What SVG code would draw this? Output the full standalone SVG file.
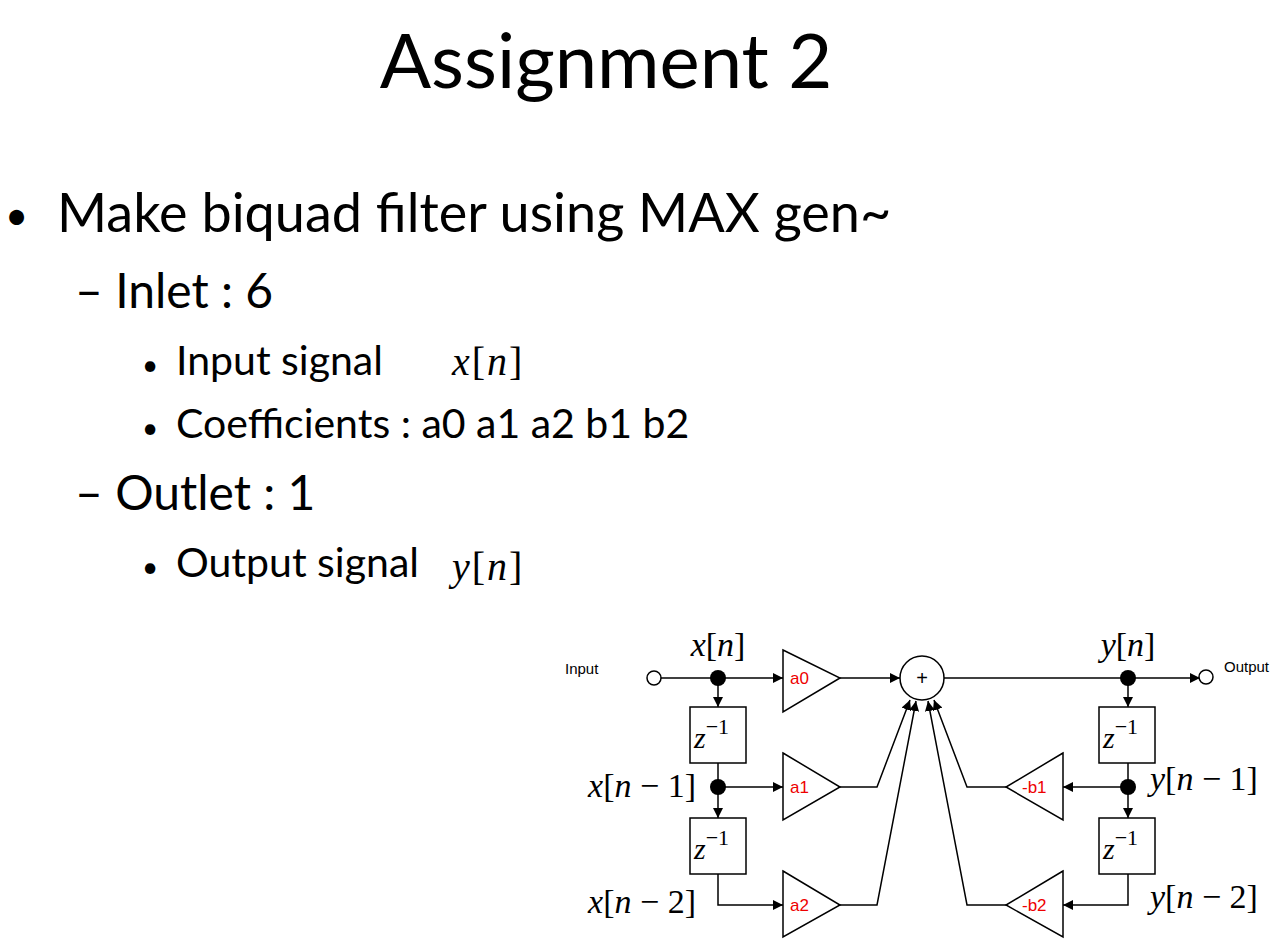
<svg xmlns="http://www.w3.org/2000/svg" width="1287" height="942" viewBox="0 0 1287 942">
<defs>
<marker id="ah" viewBox="0 0 10 10" refX="10" refY="5" markerWidth="10" markerHeight="10" markerUnits="userSpaceOnUse" orient="auto"><path d="M0,0 L10,5 L0,10 z" fill="#000"/></marker>
<style>
.t{font-family:Lato,"Open Sans",sans-serif;fill:#000}
.m{font-family:"Liberation Serif","DejaVu Serif",serif;font-style:italic;fill:#000}
.mr{font-family:"Liberation Serif","DejaVu Serif",serif;fill:#000}
.s{fill:#fff;stroke:#000;stroke-width:1.5}
.g{font-family:"Liberation Sans",Arial,sans-serif;font-size:17px;fill:#e00}
.w{fill:none;stroke:#000;stroke-width:1.5}
.a{fill:none;stroke:#000;stroke-width:1.5;marker-end:url(#ah)}
</style>
</defs>
<rect width="1287" height="942" fill="#fff"/>
<g id="text">
<text class="t" x="606" y="88" font-size="76" text-anchor="middle">Assignment 2</text>
<text class="t" x="5" y="230" font-size="40">•</text>
<text class="t" x="57" y="232" font-size="54">Make biquad filter using MAX gen~</text>
<text class="t" x="75" y="308" font-size="48">– Inlet : 6</text>
<text class="t" x="142" y="375" font-size="28">•</text>
<text class="t" x="176" y="375" font-size="41">Input signal</text>
<text x="452" y="375" font-size="40" letter-spacing="2"><tspan class="m">x</tspan><tspan class="mr">[</tspan><tspan class="m">n</tspan><tspan class="mr">]</tspan></text>
<text class="t" x="142" y="438" font-size="28">•</text>
<text class="t" x="176" y="438" font-size="41">Coefficients : a0 a1 a2 b1 b2</text>
<text class="t" x="75" y="510" font-size="48">– Outlet : 1</text>
<text class="t" x="142" y="577" font-size="28">•</text>
<text class="t" x="176" y="577" font-size="41">Output signal</text>
<text x="452" y="580" font-size="40" letter-spacing="2"><tspan class="m">y</tspan><tspan class="mr">[</tspan><tspan class="m">n</tspan><tspan class="mr">]</tspan></text>
</g>
<g id="connectors">
<line class="w" x1="660" y1="678" x2="718" y2="678"/>
<line class="a" x1="718" y1="678" x2="783" y2="678"/>
<line class="a" x1="840" y1="678" x2="900" y2="678"/>
<line class="w" x1="944" y1="678" x2="1128" y2="678"/>
<line class="a" x1="1128" y1="678" x2="1200" y2="678"/>
<line class="a" x1="718" y1="678" x2="718" y2="707"/>
<line class="w" x1="718" y1="763" x2="718" y2="787"/>
<line class="a" x1="718" y1="787" x2="783" y2="787"/>
<line class="a" x1="718" y1="787" x2="718" y2="818"/>
<polyline class="a" points="718,874 718,905 783,905"/>
<polyline class="a" points="840,787 877,787 910,700"/>
<polyline class="a" points="840,905 877,905 916,701"/>
<line class="a" x1="1128" y1="678" x2="1128" y2="707"/>
<line class="w" x1="1128" y1="763" x2="1128" y2="787"/>
<line class="a" x1="1128" y1="787" x2="1063" y2="787"/>
<line class="a" x1="1128" y1="787" x2="1128" y2="818"/>
<polyline class="a" points="1128,874 1128,905 1063,905"/>
<polyline class="a" points="1006,787 967,787 934,700"/>
<polyline class="a" points="1006,905 967,905 928,701"/>
</g>
<g id="input"><circle class="s" cx="654" cy="678" r="7"/><text x="565" y="674" font-family="Liberation Sans,Arial,sans-serif" font-size="15">Input</text></g>
<g id="output"><circle class="s" cx="1206" cy="677" r="7"/><text x="1224" y="672" font-family="Liberation Sans,Arial,sans-serif" font-size="15">Output</text></g>
<g id="dots"><circle cx="718" cy="678" r="8"/><circle cx="718" cy="787" r="8"/><circle cx="1128" cy="678" r="8"/><circle cx="1128" cy="787" r="8"/></g>
<g id="sum"><circle class="s" cx="922" cy="678" r="22"/><text x="922" y="685" font-family="Liberation Sans,Arial,sans-serif" font-size="20" text-anchor="middle">+</text></g>
<g id="a0"><polygon class="s" points="783,650 840,678 783,712"/><text class="g" x="790" y="684">a0</text></g>
<g id="a1"><polygon class="s" points="783,753 840,787 783,820"/><text class="g" x="790" y="793">a1</text></g>
<g id="a2"><polygon class="s" points="783,871 840,905 783,937"/><text class="g" x="790" y="911">a2</text></g>
<g id="b1"><polygon class="s" points="1063,753 1006,787 1063,820"/><text class="g" x="1022" y="793">-b1</text></g>
<g id="b2"><polygon class="s" points="1063,871 1006,905 1063,937"/><text class="g" x="1022" y="911">-b2</text></g>
<g id="zx1"><rect class="s" x="690" y="707" width="56" height="56"/><text x="694" y="748" font-size="30"><tspan class="m">z</tspan><tspan class="mr" dy="-14" font-size="22">−1</tspan></text></g>
<g id="zx2"><rect class="s" x="690" y="818" width="56" height="56"/><text x="694" y="859" font-size="30"><tspan class="m">z</tspan><tspan class="mr" dy="-14" font-size="22">−1</tspan></text></g>
<g id="zy1"><rect class="s" x="1099" y="707" width="56" height="56"/><text x="1103" y="748" font-size="30"><tspan class="m">z</tspan><tspan class="mr" dy="-14" font-size="22">−1</tspan></text></g>
<g id="zy2"><rect class="s" x="1099" y="818" width="56" height="56"/><text x="1103" y="859" font-size="30"><tspan class="m">z</tspan><tspan class="mr" dy="-14" font-size="22">−1</tspan></text></g>
<g id="labels" font-size="34">
<text x="718" y="656" text-anchor="middle"><tspan class="m">x</tspan><tspan class="mr">[</tspan><tspan class="m">n</tspan><tspan class="mr">]</tspan></text>
<text x="1128" y="656" text-anchor="middle"><tspan class="m">y</tspan><tspan class="mr">[</tspan><tspan class="m">n</tspan><tspan class="mr">]</tspan></text>
<text x="696" y="797" text-anchor="end"><tspan class="m">x</tspan><tspan class="mr">[</tspan><tspan class="m">n</tspan><tspan class="mr"> − 1]</tspan></text>
<text x="696" y="913" text-anchor="end"><tspan class="m">x</tspan><tspan class="mr">[</tspan><tspan class="m">n</tspan><tspan class="mr"> − 2]</tspan></text>
<text x="1150" y="790"><tspan class="m">y</tspan><tspan class="mr">[</tspan><tspan class="m">n</tspan><tspan class="mr"> − 1]</tspan></text>
<text x="1150" y="908"><tspan class="m">y</tspan><tspan class="mr">[</tspan><tspan class="m">n</tspan><tspan class="mr"> − 2]</tspan></text>
</g>
</svg>
